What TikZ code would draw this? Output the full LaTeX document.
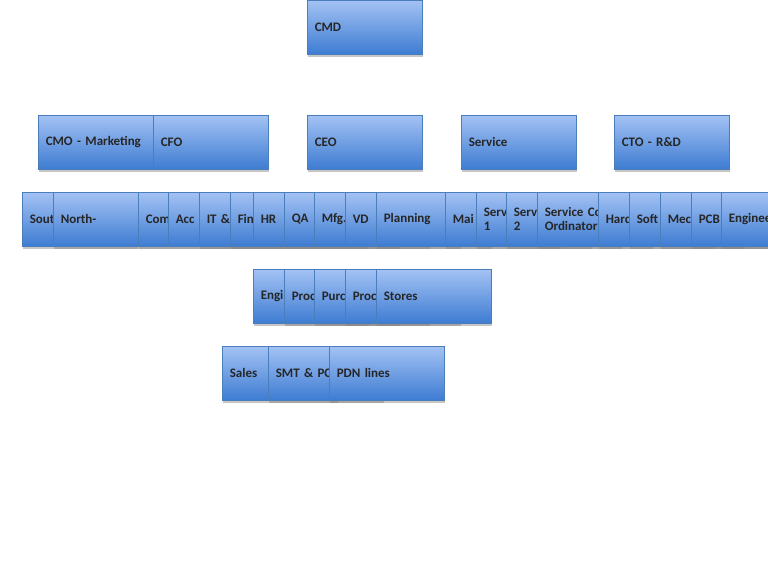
\documentclass[tikz,border=0pt]{standalone}
\usepackage{fontspec}
\setmainfont{Carlito}
\usetikzlibrary{shadows}
\definecolor{btop}{HTML}{A3C2F4}
\definecolor{bbot}{HTML}{3E7CD2}
\definecolor{bedge}{HTML}{4A7EBB}
\tikzset{
  ob/.style={anchor=north west, draw=bedge, line width=0.5pt, top color=btop, bottom color=bbot,
    minimum width=115pt, minimum height=54pt, text width=100pt, inner xsep=7.5pt, align=left,
    font=\fontsize{13}{14}\selectfont\bfseries, text=black!85,
    drop shadow={shadow xshift=0.5pt, shadow yshift=-2.5pt, opacity=0.45}}
}
\begin{document}
\begin{tikzpicture}[x=1pt,y=-1pt]
\useasboundingbox (0,0) rectangle (768,576);
\clip (0,0) rectangle (768,576);
\node[ob] (cmd) at (307,0) {CMD};
\node[ob] (cmo) at (38,115) {CMO - Marketing};
\node[ob] (cfo) at (153,115) {CFO};
\node[ob] (ceo) at (307,115) {CEO};
\node[ob] (svc) at (461,115) {Service};
\node[ob] (cto) at (614,115) {CTO - R\&D};
\node[ob] (r1) at (22,192) {Sout};
\node[ob] (r2) at (53,192) {North-};
\node[ob] (r3) at (138,192) {Com};
\node[ob] (r4) at (168,192) {Acc};
\node[ob] (r5) at (199,192) {IT \&};
\node[ob] (r6) at (230,192) {Fin};
\node[ob] (r7) at (253,192) {HR};
\node[ob] (r8) at (284,192) {QA};
\node[ob] (r9) at (314,192) {Mfg.};
\node[ob] (r10) at (345,192) {VD};
\node[ob] (r11) at (376,192) {Planning};
\node[ob] (r12) at (445,192) {Mai};
\node[ob] (r13) at (476,192) {Serv\\1};
\node[ob] (r14) at (506,192) {Serv\\2};
\node[ob] (r15) at (537,192) {Service Co\\Ordinator};
\node[ob] (r16) at (598,192) {Hard};
\node[ob] (r17) at (629,192) {Soft};
\node[ob] (r18) at (660,192) {Mec};
\node[ob] (r19) at (691,192) {PCB};
\node[ob] (r20) at (721,192) {Enginee};
\node[ob] (s1) at (253,269) {Engi};
\node[ob] (s2) at (284,269) {Proc};
\node[ob] (s3) at (314,269) {Purc};
\node[ob] (s4) at (345,269) {Proc};
\node[ob] (s5) at (376,269) {Stores};
\node[ob] (t1) at (222,346) {Sales};
\node[ob] (t2) at (268,346) {SMT \& PC};
\node[ob] (t3) at (329,346) {PDN lines};
\end{tikzpicture}
\end{document}
